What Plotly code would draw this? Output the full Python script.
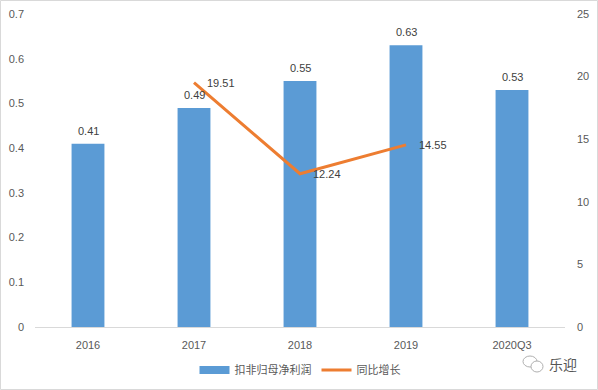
import plotly.graph_objects as go
from plotly.subplots import make_subplots

categories = ["2016", "2017", "2018", "2019", "2020Q3"]
profit = [0.41, 0.49, 0.55, 0.63, 0.53]
growth_years = ["2017", "2018", "2019"]
growth = [19.51, 12.24, 14.55]
left_ticks = [0, 0.1, 0.2, 0.3, 0.4, 0.5, 0.6, 0.7]
right_ticks = [0, 5, 10, 15, 20, 25]

W, H = 598, 390
L, R, T, B = 35, 33, 14, 63
pw, ph = W - L - R, H - T - B

num_font = "Liberation Sans, Arial, sans-serif"
cjk_font = "Noto Sans CJK SC, sans-serif"
BLUE, ORANGE = "#5B9BD5", "#ED7D31"

fig = make_subplots(specs=[[{"secondary_y": True}]])

fig.add_trace(go.Bar(
    x=categories, y=profit, name="扣非归母净利润",
    marker=dict(color=BLUE, line=dict(width=0)),
    width=0.31, showlegend=False,
), secondary_y=False)

fig.add_trace(go.Scatter(
    x=growth_years, y=growth, name="同比增长", mode="lines",
    line=dict(color=ORANGE, width=3), showlegend=False,
), secondary_y=True)

# legend-only entries (wide swatches like the reference)
fig.add_trace(go.Scatter(x=[categories[0]], y=[None], name="扣非归母净利润", mode="lines",
                         line=dict(color=BLUE, width=8)), secondary_y=False)
fig.add_trace(go.Scatter(x=[categories[0]], y=[None], name="同比增长", mode="lines",
                         line=dict(color=ORANGE, width=3)), secondary_y=True)

# bar value labels (category index positions)
for c, v in zip(categories, profit):
    fig.add_annotation(x=categories.index(c), y=v, xref="x", yref="y", text=f"{v:.2f}",
                       showarrow=False, xanchor="center", yanchor="bottom", yshift=5,
                       font=dict(family=num_font, size=11, color="#404040"))
# line value labels
for c, v in zip(growth_years, growth):
    fig.add_annotation(x=categories.index(c), y=v, xref="x", yref="y2", text=f"{v:.2f}",
                       showarrow=False, xanchor="left", yanchor="middle", xshift=11,
                       font=dict(family=num_font, size=11, color="#404040"))

fig.update_xaxes(
    type="category", categoryorder="array", categoryarray=categories, range=[-0.5, 4.5],
    domain=[0, 1],
    showgrid=False, showline=True, linecolor="#D9D9D9", linewidth=1,
    ticks="", tickfont=dict(family=num_font, size=11, color="#595959"),
    ticklabelstandoff=8, zeroline=False,
)
fig.update_yaxes(
    range=[0, 0.7], tickvals=left_ticks, ticktext=[f"{v:g}" for v in left_ticks],
    showgrid=False, zeroline=False, showline=False,
    tickfont=dict(family=num_font, size=11, color="#595959"), ticklabelstandoff=10,
    secondary_y=False,
)
fig.update_yaxes(
    range=[0, 25], tickvals=right_ticks, showgrid=False, zeroline=False, showline=False,
    tickfont=dict(family=num_font, size=11, color="#595959"), ticklabelstandoff=11,
    secondary_y=True,
)

# outer border
fig.add_shape(type="rect", xref="paper", yref="paper",
              x0=(0.5 - L) / pw, x1=(W - 0.5 - L) / pw,
              y0=(H - B - (H - 0.5)) / ph, y1=(H - B - 0.5) / ph,
              line=dict(color="#D9D9D9", width=1), fillcolor="rgba(0,0,0,0)", layer="below")

# watermark
fig.add_annotation(xref="paper", yref="paper", x=(563 - L) / pw, y=(H - B - 364) / ph,
                   text="乐迎", showarrow=False, xanchor="center", yanchor="middle",
                   font=dict(family=cjk_font, size=14, color="#555555"))
fig.add_shape(type="circle", xref="paper", yref="paper",
              x0=(523 - L) / pw, x1=(537 - L) / pw, y0=(H - B - 367) / ph, y1=(H - B - 356) / ph,
              line=dict(color="#B0B0B0", width=1))
fig.add_shape(type="circle", xref="paper", yref="paper",
              x0=(531 - L) / pw, x1=(543 - L) / pw, y0=(H - B - 372) / ph, y1=(H - B - 361) / ph,
              line=dict(color="#B0B0B0", width=1), fillcolor="white")

fig.update_layout(
    width=W, height=H, margin=dict(l=L, r=R, t=T, b=B, autoexpand=False),
    paper_bgcolor="white", plot_bgcolor="white",
    showlegend=True,
    legend=dict(orientation="h", x=0.5, xanchor="center", y=(H - B - 370) / ph, yanchor="middle",
                font=dict(family=cjk_font, size=11, color="#595959"),
                itemwidth=30, bgcolor="rgba(0,0,0,0)", tracegroupgap=0),
)

fig.write_html("out.html", config={"displayModeBar": False},
               post_script="document.body.style.margin='0';")
